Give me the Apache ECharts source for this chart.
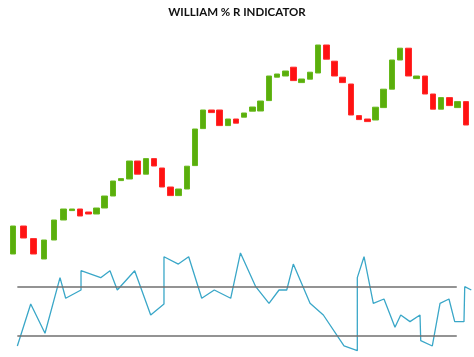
<!DOCTYPE html>
<html>
<head>
<meta charset="utf-8">
<script src="https://cdn.jsdelivr.net/npm/echarts@6/dist/echarts.min.js"></script>
<style>html,body{margin:0;padding:0;background:#fff;}#c{width:474px;height:357px;}</style>
</head>
<body>
<div id="c"></div>
<script>
// session position of each candle (first sessions were spaced slightly wider)
const sessionTime = [-1.2, 0.1, 1.3, 2.6, 3.8, 5, 6, 7, 8, 9, 10, 11, 12, 13, 14, 15, 16, 17, 18, 19,
  20, 21, 22, 23, 24, 25, 26, 27, 28, 29, 30, 31, 32, 33, 34, 35, 36, 37, 38, 39,
  40, 41, 42, 43, 44, 45, 46, 47, 48, 49, 50, 51, 52, 53, 54];
const opens = [3, 17, 10.7, 0.5, 10, 20, 24.7, 25.5, 24, 23, 26, 32, 39.7, 40.5, 49.5, 42.9, 50.7, 46, 36.5, 32.2,
  35.5, 47.2, 65.7, 75, 75, 67.2, 70.5, 71.4, 74.4, 74.5, 79.7, 91.4, 92, 96.4, 88.7, 90.4, 93.5, 107.5, 99.4, 91.4,
  88, 72.2, 70.5, 70, 76.2, 85.4, 100, 105.9, 90.7, 92, 83, 75.4, 81.2, 76.2, 79.2];
const closes = [17, 11, 3, 10, 20, 25.5, 25.5, 22, 23, 26, 32, 39.5, 40.7, 49.5, 42.9, 50.7, 47, 36.5, 32.2, 35.5,
  46.9, 65.5, 75, 73.7, 67.2, 70.5, 68.4, 73.5, 76.5, 79.5, 92, 93, 94.5, 89.7, 90.5, 93.9, 107.5, 100.4, 92, 88.7,
  72.5, 70.2, 69.2, 76.4, 85.4, 100, 105.9, 92, 92, 83, 75.4, 81.2, 77.2, 79.2, 67.5];

// Williams %R style oscillator (scaled 0..125, bands at 20 / 80)
const wrTime = [-0.65, 0.98, 2.72, 4.55, 5.24, 7.11, 7.11, 9.51, 10.64, 11.53, 13.65, 15.60, 17.22, 17.22, 18.97,
  20.23, 21.82, 23.35, 25.35, 26.54, 28.40, 30.02, 31.24, 32.18, 32.98, 35.02, 36.64, 39.16, 40.78, 40.78,
  41.60, 42.73, 44.03, 45.37, 46.07, 47.20, 48.42, 48.51, 49.92, 50.86, 51.95, 52.65, 53.78, 53.87, 54.67];
const wrValue = [7.3, 59.1, 23.0, 91.5, 66.1, 76.3, 100.1, 91.5, 100.1, 76.3, 100.1, 45.5, 59.1, 117.3, 108.3,
  117.3, 66.1, 76.3, 66.1, 122, 80.4, 59.9, 76.3, 76.3, 108.3, 59.9, 45.5, 7.3, 1.5, 91.5,
  117.3, 59.9, 65.2, 30.4, 45.5, 37.3, 45.5, 13.8, 7.3, 59.9, 65.2, 37.3, 37.3, 80.4, 76.3];
const bandLevels = [80, 20];
const bandSpan = [-0.65, 52.9];

const candleData = sessionTime.map((t, i) => [t, opens[i], closes[i], Math.min(opens[i], closes[i]), Math.max(opens[i], closes[i])]);
const wrData = wrTime.map((t, i) => [t, wrValue[i]]);

const chart = echarts.init(document.getElementById('c'));
chart.setOption({
  animation: false,
  backgroundColor: '#fff',
  title: {
    text: 'WILLIAM % R INDICATOR', left: 'center', top: 1,
    textStyle: { fontFamily: 'Lato', fontWeight: 'bold', fontSize: 11.5, color: '#111' }
  },
  grid: [
    { left: 0, right: 0, top: 40, height: 220 },
    { left: 0, right: 0, top: 250.5, height: 101.4 }
  ],
  xAxis: [
    { type: 'value', gridIndex: 0, min: -2.763, max: 55, show: false },
    { type: 'value', gridIndex: 1, min: -2.763, max: 55, show: false }
  ],
  yAxis: [
    { type: 'value', gridIndex: 0, min: 0, max: 110, show: false },
    { type: 'value', gridIndex: 1, min: 0, max: 125, show: false }
  ],
  series: [
    {
      type: 'candlestick', xAxisIndex: 0, yAxisIndex: 0,
      encode: { x: 0, y: [1, 2, 3, 4] },
      barWidth: 6,
      itemStyle: { color: '#5aae0c', color0: '#ff1212', borderColor: '#66b81c', borderColor0: '#ff2a2a', borderWidth: 1 },
      data: candleData
    },
    {
      type: 'line', xAxisIndex: 1, yAxisIndex: 1,
      showSymbol: false, symbol: 'none',
      lineStyle: { color: '#3aa7c8', width: 1.3 },
      data: wrData,
      markLine: {
        silent: true, symbol: 'none', label: { show: false },
        lineStyle: { color: '#6f6f6f', width: 1.5, type: 'solid' },
        data: bandLevels.map(l => [{ coord: [bandSpan[0], l] }, { coord: [bandSpan[1], l] }])
      }
    }
  ]
});
</script>
</body>
</html>
